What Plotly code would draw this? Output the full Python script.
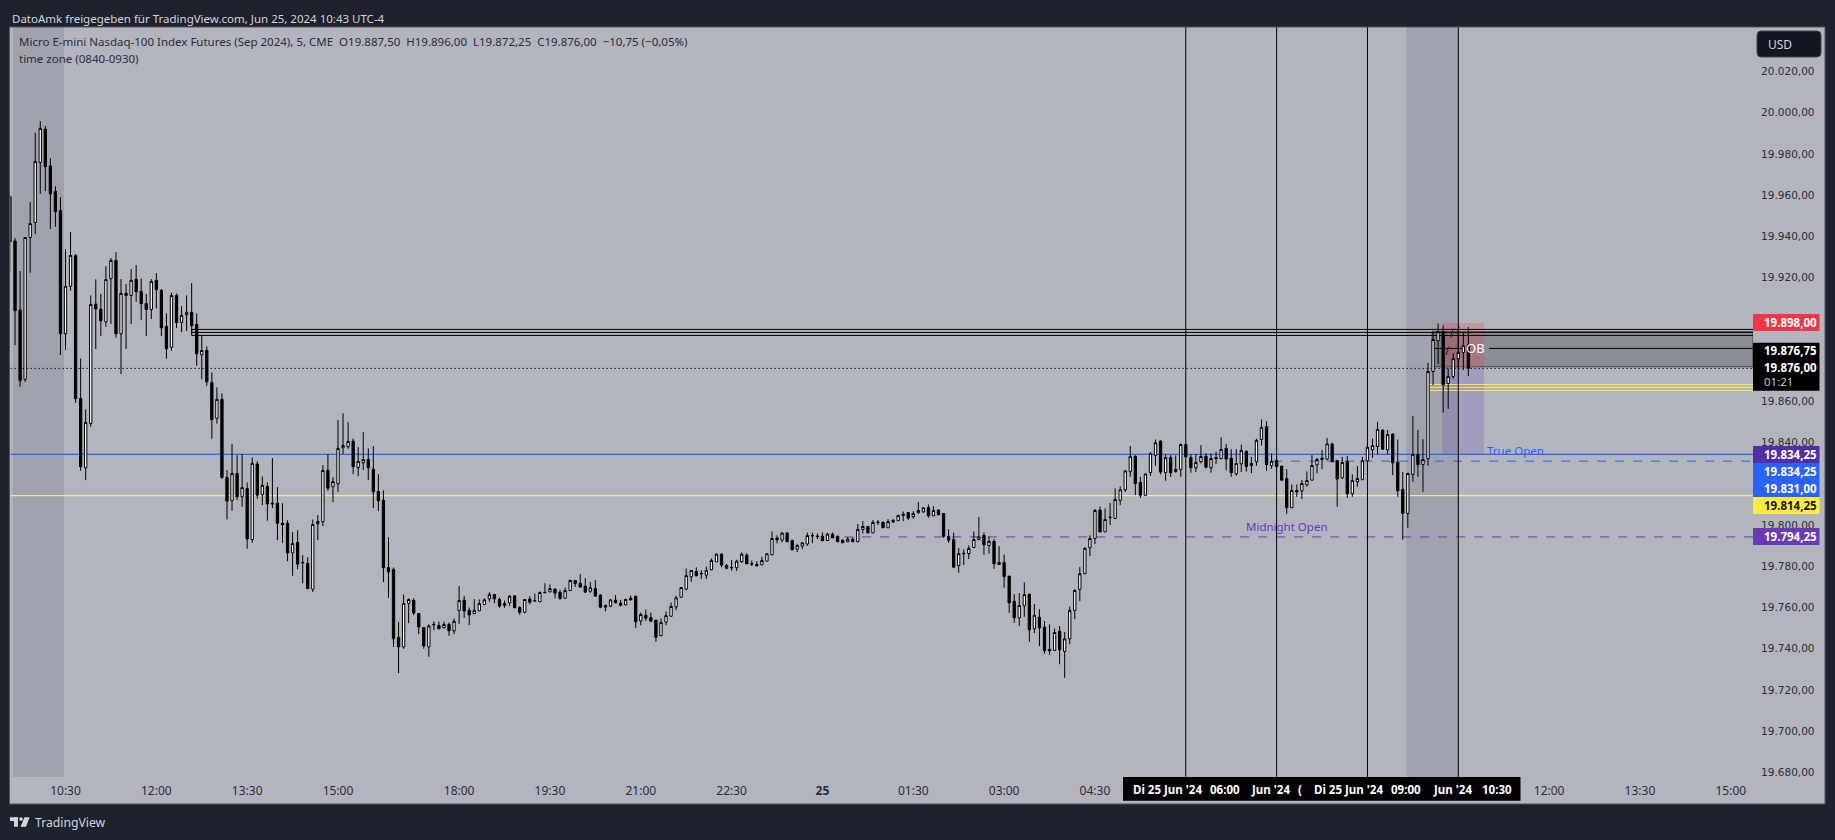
import plotly.graph_objects as go

W, H = 1835, 840
PANE_BG = "#b2b5be"
DARK_BG = "#1e222d"
TEXT_FONT = "Noto Sans"
TAG_FONT = "Open Sans"

# one 5 minute bar per entry, bar 0 is 09:40, bar -1 is cut by the pane edge
opens = [
    19959.3, 19937.8, 19904.3, 19870.7, 19939.5, 19946.8, 19975.9, 19992.1, 19974.2, 19961.9,
    19952.6, 19892.8, 19915.8, 19930.8, 19861.4, 19827.8, 19849.3, 19907.2, 19904.8, 19898.6,
    19919.5, 19928.4, 19892.8, 19912.5, 19911.4, 19919.2, 19913.3, 19907.5, 19904.6, 19918.7,
    19913.8, 19896.4, 19886.2, 19911.4, 19898.2, 19902.0, 19903.2, 19897.3, 19882.6, 19884.7,
    19869.2, 19851.8, 19861.0, 19823.1, 19811.9, 19825.0, 19813.7, 19817.7, 19793.0, 19829.6,
    19814.7, 19818.7, 19810.6, 19810.6, 19800.9, 19800.9, 19786.5, 19791.6, 19782.0, 19781.5,
    19768.9, 19800.6, 19801.6, 19826.6, 19818.6, 19820.0, 19837.5, 19838.0, 19840.7, 19827.9,
    19830.2, 19831.8, 19827.1, 19816.3, 19812.0, 19779.4, 19778.5, 19745.5, 19740.9, 19762.0,
    19763.4, 19757.1, 19750.3, 19740.9, 19751.9, 19751.3, 19750.2, 19751.8, 19748.7, 19758.6,
    19763.6, 19758.7, 19757.1, 19758.4, 19761.5, 19764.2, 19766.3, 19763.9, 19761.9, 19762.3,
    19765.7, 19760.0, 19757.7, 19764.1, 19763.4, 19762.8, 19767.4, 19767.6, 19768.9, 19767.4,
    19764.5, 19768.2, 19773.1, 19771.7, 19770.4, 19767.9, 19769.2, 19766.0, 19761.0, 19760.7,
    19763.6, 19762.1, 19761.3, 19764.5, 19765.5, 19753.5, 19756.3, 19755.2, 19753.9, 19746.4,
    19752.9, 19755.8, 19760.3, 19765.0, 19768.9, 19774.9, 19777.5, 19776.3, 19775.7, 19778.3,
    19782.2, 19785.9, 19780.4, 19779.5, 19779.3, 19782.2, 19785.4, 19781.3, 19780.9, 19780.7,
    19782.5, 19785.6, 19793.7, 19792.7, 19796.1, 19792.5, 19788.3, 19789.8, 19790.8, 19794.7,
    19794.4, 19794.6, 19792.5, 19795.6, 19794.6, 19792.7, 19791.9, 19793.2, 19791.9, 19797.9,
    19799.3, 19796.2, 19801.2, 19801.4, 19798.7, 19802.2, 19802.1, 19805.3, 19806.1, 19804.0,
    19806.0, 19806.4, 19808.5, 19804.5, 19807.3, 19805.6, 19794.5, 19793.0, 19780.4, 19786.1,
    19786.2, 19789.1, 19793.0, 19795.0, 19790.1, 19792.1, 19780.9, 19781.9, 19775.2, 19763.0,
    19755.0, 19760.8, 19766.5, 19749.7, 19755.3, 19750.5, 19739.7, 19739.2, 19748.5, 19738.7,
    19744.8, 19758.6, 19768.8, 19776.4, 19789.0, 19793.5, 19807.3, 19796.7, 19803.6, 19803.2,
    19812.0, 19817.1, 19825.9, 19833.3, 19820.7, 19814.4, 19825.5, 19833.8, 19840.7, 19825.4,
    19832.8, 19826.0, 19827.0, 19839.1, 19832.8, 19827.8, 19830.7, 19833.4, 19827.8, 19832.8,
    19832.2, 19837.2, 19832.5, 19824.9, 19829.7, 19835.7, 19828.9, 19830.7, 19841.5, 19847.8,
    19828.8, 19831.3, 19828.6, 19822.5, 19808.4, 19816.8, 19816.6, 19819.5, 19821.8, 19829.2,
    19831.8, 19832.0, 19839.3, 19831.3, 19822.9, 19831.0, 19815.2, 19821.0, 19822.0, 19831.2,
    19836.5, 19838.1, 19846.1, 19836.5, 19844.1, 19830.5, 19817.3, 19805.6, 19824.6, 19834.3,
    19829.4, 19832.2, 19874.5, 19889.4, 19893.8, 19868.7, 19872.1, 19880.7, 19883.7, 19887.5,
]
highs = [
    19960.1, 19939.1, 19923.2, 19939.5, 19956.7, 19990.3, 19996.0, 19993.6, 19977.9, 19964.4,
    19959.1, 19933.9, 19942.1, 19931.5, 19880.8, 19856.1, 19911.4, 19919.2, 19912.1, 19925.6,
    19929.5, 19932.4, 19919.3, 19916.9, 19924.2, 19926.1, 19919.6, 19912.1, 19919.3, 19922.2,
    19914.5, 19902.7, 19912.7, 19912.4, 19906.2, 19911.4, 19917.4, 19902.7, 19891.8, 19886.7,
    19874.1, 19866.8, 19863.9, 19826.7, 19839.3, 19833.9, 19834.4, 19820.7, 19832.8, 19831.0,
    19823.6, 19820.7, 19832.5, 19818.4, 19810.6, 19802.4, 19796.6, 19797.5, 19785.4, 19784.4,
    19802.7, 19804.8, 19829.1, 19834.4, 19823.2, 19850.9, 19854.3, 19849.9, 19842.0, 19837.8,
    19845.1, 19837.2, 19838.3, 19824.7, 19816.8, 19794.1, 19779.4, 19752.9, 19766.3, 19764.4,
    19764.5, 19757.3, 19750.5, 19751.8, 19753.2, 19753.2, 19753.2, 19752.7, 19754.7, 19770.4,
    19765.7, 19760.0, 19764.1, 19763.9, 19764.4, 19767.5, 19766.4, 19764.9, 19763.4, 19766.0,
    19765.8, 19760.7, 19764.1, 19765.5, 19766.8, 19767.8, 19771.8, 19771.2, 19769.4, 19768.6,
    19769.7, 19773.6, 19773.2, 19776.2, 19774.2, 19772.3, 19773.3, 19766.5, 19761.5, 19764.1,
    19766.0, 19763.7, 19764.4, 19765.8, 19765.7, 19757.6, 19759.0, 19757.6, 19754.0, 19754.7,
    19758.1, 19762.4, 19765.7, 19769.9, 19778.9, 19778.1, 19779.5, 19778.1, 19779.9, 19783.8,
    19786.2, 19786.4, 19781.1, 19783.0, 19783.2, 19786.7, 19786.4, 19782.8, 19782.5, 19784.6,
    19786.2, 19796.9, 19795.0, 19796.6, 19796.4, 19793.0, 19790.9, 19791.7, 19796.4, 19796.4,
    19795.9, 19796.4, 19796.2, 19796.4, 19794.7, 19793.0, 19794.1, 19794.0, 19800.5, 19801.9,
    19799.5, 19802.4, 19802.4, 19801.7, 19802.9, 19803.0, 19805.0, 19806.6, 19806.3, 19806.8,
    19811.1, 19808.5, 19810.0, 19809.2, 19807.6, 19805.8, 19798.0, 19796.4, 19788.8, 19788.2,
    19790.1, 19796.9, 19803.9, 19796.4, 19794.5, 19793.3, 19789.8, 19785.7, 19775.4, 19766.5,
    19767.0, 19772.2, 19766.6, 19761.7, 19759.2, 19753.4, 19751.8, 19749.8, 19751.0, 19748.1,
    19760.5, 19768.9, 19779.6, 19789.3, 19795.0, 19807.8, 19809.0, 19808.1, 19810.7, 19817.8,
    19818.7, 19826.5, 19838.3, 19833.9, 19823.4, 19824.9, 19835.2, 19841.5, 19841.2, 19834.3,
    19833.9, 19833.8, 19839.6, 19839.2, 19834.4, 19834.4, 19838.8, 19834.8, 19834.8, 19835.6,
    19842.5, 19839.3, 19836.8, 19836.8, 19839.1, 19836.4, 19833.1, 19841.9, 19851.2, 19850.3,
    19834.8, 19831.8, 19828.7, 19827.0, 19819.7, 19819.7, 19821.8, 19826.0, 19833.9, 19832.6,
    19836.4, 19842.2, 19839.9, 19831.5, 19833.1, 19833.5, 19824.6, 19828.6, 19833.1, 19839.6,
    19841.9, 19849.9, 19846.4, 19846.1, 19844.6, 19841.5, 19825.8, 19825.4, 19852.9, 19846.1,
    19841.7, 19878.7, 19893.8, 19897.8, 19896.8, 19876.0, 19883.3, 19894.6, 19893.4, 19896.0,
]
lows = [
    19922.9, 19887.3, 19867.1, 19869.4, 19922.4, 19941.2, 19960.7, 19962.0, 19943.6, 19944.7,
    19882.5, 19884.9, 19913.7, 19859.3, 19826.3, 19821.8, 19847.7, 19885.4, 19891.7, 19896.2,
    19897.5, 19890.9, 19873.3, 19885.4, 19897.5, 19908.2, 19899.4, 19891.7, 19899.9, 19905.1,
    19891.7, 19880.7, 19884.6, 19895.6, 19893.6, 19894.1, 19893.4, 19877.3, 19870.7, 19867.6,
    19841.9, 19849.2, 19822.5, 19802.7, 19806.9, 19812.1, 19808.9, 19788.5, 19791.4, 19812.7,
    19809.7, 19802.1, 19808.2, 19792.7, 19791.4, 19782.5, 19775.4, 19778.6, 19771.8, 19768.9,
    19767.5, 19792.7, 19799.5, 19816.5, 19811.1, 19816.0, 19834.6, 19837.0, 19824.7, 19823.7,
    19826.6, 19821.8, 19808.2, 19806.8, 19772.3, 19764.6, 19740.9, 19728.2, 19740.0, 19752.4,
    19756.3, 19747.1, 19740.0, 19736.1, 19749.0, 19749.5, 19749.8, 19746.3, 19747.1, 19752.1,
    19755.0, 19751.5, 19756.8, 19758.2, 19761.1, 19762.8, 19762.1, 19759.9, 19759.9, 19760.8,
    19759.7, 19756.5, 19757.2, 19761.6, 19763.0, 19762.7, 19767.0, 19767.5, 19764.5, 19763.7,
    19764.4, 19768.1, 19770.0, 19769.8, 19767.1, 19767.1, 19765.4, 19759.7, 19758.2, 19760.2,
    19762.1, 19760.5, 19761.1, 19763.6, 19750.0, 19751.4, 19753.4, 19753.1, 19743.4, 19746.1,
    19751.4, 19755.5, 19758.7, 19764.9, 19768.4, 19772.5, 19775.2, 19773.9, 19773.9, 19778.1,
    19782.1, 19779.6, 19778.6, 19777.8, 19777.7, 19781.7, 19781.1, 19780.1, 19780.1, 19780.6,
    19782.4, 19785.4, 19791.1, 19791.7, 19791.7, 19787.8, 19786.9, 19788.3, 19789.9, 19791.2,
    19793.2, 19792.3, 19792.4, 19793.7, 19791.8, 19791.3, 19791.8, 19791.8, 19791.8, 19795.9,
    19796.1, 19796.1, 19800.1, 19798.6, 19798.6, 19800.9, 19802.0, 19801.9, 19802.4, 19803.1,
    19805.5, 19806.0, 19803.5, 19804.4, 19804.8, 19793.8, 19791.4, 19779.3, 19776.9, 19780.6,
    19783.5, 19789.0, 19792.9, 19785.6, 19786.1, 19778.8, 19780.7, 19769.6, 19757.4, 19752.6,
    19751.1, 19755.5, 19743.4, 19747.6, 19741.3, 19737.6, 19737.1, 19738.9, 19732.5, 19725.9,
    19742.2, 19754.4, 19763.1, 19776.2, 19784.9, 19790.8, 19796.6, 19796.6, 19800.0, 19803.1,
    19809.7, 19816.1, 19823.4, 19814.5, 19813.2, 19814.3, 19823.9, 19828.8, 19824.6, 19821.5,
    19823.4, 19825.4, 19823.4, 19833.0, 19825.4, 19825.7, 19829.9, 19827.5, 19825.4, 19829.6,
    19832.0, 19826.6, 19823.4, 19823.9, 19825.7, 19825.9, 19825.2, 19828.8, 19838.6, 19826.3,
    19827.3, 19828.2, 19821.7, 19805.5, 19808.3, 19813.7, 19812.6, 19818.6, 19821.6, 19825.2,
    19827.1, 19831.5, 19830.6, 19808.9, 19822.4, 19813.2, 19813.7, 19818.6, 19821.9, 19831.1,
    19832.6, 19834.4, 19836.7, 19834.4, 19824.2, 19813.7, 19792.9, 19798.7, 19821.0, 19823.4,
    19816.1, 19828.8, 19867.9, 19878.1, 19854.5, 19856.4, 19871.0, 19876.0, 19875.2, 19872.25,
]
closes = [
    19937.4, 19904.0, 19870.0, 19939.5, 19946.3, 19976.4, 19992.4, 19973.8, 19960.7, 19952.0,
    19892.8, 19915.8, 19930.8, 19861.3, 19828.3, 19849.8, 19907.0, 19904.8, 19899.1, 19919.2,
    19928.4, 19892.8, 19912.4, 19911.3, 19918.7, 19913.2, 19907.4, 19904.6, 19918.2, 19914.2,
    19895.7, 19885.5, 19911.4, 19898.2, 19901.7, 19903.2, 19896.7, 19883.1, 19884.7, 19869.5,
    19851.1, 19861.0, 19823.1, 19811.6, 19825.0, 19813.7, 19818.2, 19793.3, 19829.9, 19814.5,
    19819.2, 19810.2, 19810.3, 19800.9, 19800.1, 19786.5, 19791.1, 19781.1, 19781.7, 19769.2,
    19800.3, 19801.7, 19826.5, 19817.9, 19821.1, 19837.2, 19838.6, 19840.6, 19828.3, 19830.9,
    19831.8, 19827.8, 19816.1, 19811.8, 19779.3, 19777.3, 19744.8, 19740.9, 19762.0, 19763.9,
    19757.4, 19750.6, 19741.4, 19751.1, 19751.6, 19749.7, 19751.8, 19748.7, 19753.3, 19763.4,
    19758.3, 19756.4, 19758.6, 19761.9, 19763.7, 19766.3, 19764.2, 19760.7, 19761.1, 19765.5,
    19759.9, 19757.7, 19763.9, 19762.6, 19763.2, 19767.3, 19767.2, 19769.2, 19767.0, 19764.4,
    19768.2, 19773.1, 19771.7, 19769.9, 19767.5, 19769.7, 19765.5, 19760.2, 19760.2, 19763.7,
    19762.3, 19761.1, 19763.9, 19763.7, 19753.1, 19756.6, 19754.8, 19753.4, 19745.6, 19752.7,
    19756.1, 19760.5, 19764.7, 19769.7, 19775.5, 19778.0, 19775.4, 19776.5, 19778.0, 19782.8,
    19785.9, 19780.6, 19779.1, 19779.3, 19782.5, 19785.9, 19781.2, 19781.1, 19780.2, 19782.8,
    19786.1, 19793.5, 19792.9, 19796.1, 19791.9, 19788.0, 19790.1, 19791.4, 19794.9, 19794.9,
    19794.6, 19792.4, 19795.6, 19793.8, 19791.9, 19791.4, 19793.2, 19791.9, 19797.9, 19799.3,
    19796.2, 19801.3, 19801.4, 19798.7, 19801.7, 19801.6, 19804.7, 19804.7, 19803.4, 19805.6,
    19807.1, 19808.4, 19804.5, 19807.1, 19805.0, 19794.6, 19792.7, 19779.6, 19786.2, 19786.3,
    19788.7, 19793.0, 19794.3, 19790.4, 19792.1, 19781.2, 19781.9, 19774.9, 19762.3, 19755.0,
    19761.0, 19766.3, 19749.2, 19756.2, 19750.2, 19739.0, 19739.0, 19747.9, 19739.5, 19744.8,
    19758.6, 19768.3, 19776.4, 19788.7, 19793.5, 19807.1, 19796.7, 19802.7, 19803.8, 19812.4,
    19817.1, 19826.3, 19833.3, 19820.2, 19814.5, 19824.8, 19834.8, 19839.9, 19825.7, 19832.8,
    19825.4, 19827.0, 19839.1, 19833.1, 19827.8, 19830.4, 19833.3, 19828.1, 19832.3, 19832.2,
    19836.7, 19832.0, 19825.4, 19829.9, 19836.2, 19828.3, 19829.9, 19841.1, 19847.4, 19829.3,
    19830.9, 19828.3, 19821.8, 19808.4, 19816.8, 19816.1, 19820.2, 19821.6, 19828.9, 19831.8,
    19832.5, 19839.4, 19830.7, 19822.3, 19830.4, 19815.2, 19821.6, 19822.6, 19831.3, 19837.7,
    19838.6, 19846.4, 19836.8, 19843.9, 19830.2, 19816.6, 19805.6, 19825.0, 19834.3, 19829.2,
    19831.8, 19874.5, 19890.0, 19893.8, 19868.0, 19872.1, 19880.7, 19883.7, 19887.0, 19876.0,
]
bars = list(range(-1, 289))

time_tick_bars = [10, 28, 46, 64, 88, 106, 124, 142, 160, 178, 196, 214, 304, 322, 340]
time_tick_labels = ["10:30", "12:00", "13:30", "15:00", "18:00", "19:30", "21:00", "22:30", "<b>25</b>",
                    "01:30", "03:00", "04:30", "12:00", "13:30", "15:00"]
# 19.900, 19.880 and 19.820 sit fully behind the price tags
price_ticks = [20020, 20000, 19980, 19960, 19940, 19920, 19860, 19840, 19800,
               19780, 19760, 19740, 19720, 19700, 19680]
price_labels = ["20.020,00", "20.000,00", "19.980,00", "19.960,00", "19.940,00", "19.920,00",
                "19.860,00", "19.840,00", "19.800,00", "19.780,00", "19.760,00",
                "19.740,00", "19.720,00", "19.700,00", "19.680,00"]

x_range = [-0.9, 344.4]
y_range = [19677.8, 20041.6]

crosshair_bars = [232, 250, 268, 286]
session_zones = [(-0.45, 9.7), (275.7, 286)]
top_levels = [19894.9, 19893.45, 19892.0]
yellow_levels = [19868.2, 19866.8, 19865.3]
curve_bars = [283.6, 284.4, 285, 285.7, 286.2]
curve_prices = [19882.5, 19888.9, 19895.4, 19897.8, 19895.4]

# (text, y centre in px, background, text colour)
price_tags = [
    ("19.898,00", 322.5, "#f23645", "white"),
    ("19.834,25", 454.5, "#512da8", "white"),
    ("19.814,25", 505.5, "#ffeb3b", "#131722"),
    ("19.794,25", 536.5, "#673ab7", "white"),
]


def px(x):
    return x / W


def py(y):
    return 1 - y / H


def hline(price, color, start=x_range[0], end=x_range[1], dash="solid", width=1):
    return dict(type="line", xref="x", yref="y", x0=start, x1=end, y0=price, y1=price, layer="below",
                line=dict(color=color, width=width, dash=dash))


def pane_rect(x0, y0, x1, y1, fill, line=None, layer="above"):
    return dict(type="rect", xref="paper", yref="paper", x0=px(x0), x1=px(x1), y0=py(y0), y1=py(y1),
                fillcolor=fill, layer=layer, line=dict(color=line or fill, width=1 if line else 0))


def label(x, y, text, color="#d1d4dc", size=11.5, anchor="left", font=TEXT_FONT):
    return dict(xref="paper", yref="paper", x=px(x), y=py(y), text=text, showarrow=False, xanchor=anchor,
                yanchor="middle", font=dict(family=font, size=size, color=color))


fig = go.Figure()
fig.add_trace(go.Candlestick(
    x=bars, open=opens, high=highs, low=lows, close=closes, whiskerwidth=0, hoverinfo="skip",
    increasing=dict(fillcolor="white", line=dict(color="black", width=1)),
    decreasing=dict(fillcolor="black", line=dict(color="black", width=1)),
))
fig.add_trace(go.Scatter(x=curve_bars, y=curve_prices, mode="lines", hoverinfo="skip",
                         line=dict(color="#131722", width=1, dash="dash", shape="spline")))

shapes = [pane_rect(9.5, 27, 1825, 804, PANE_BG, layer="below")]
for start, end in session_zones:
    shapes.append(dict(type="rect", xref="x", yref="y", x0=start, x1=end, y0=y_range[0], y1=y_range[1],
                       fillcolor="#a0a2ad", line_width=0, layer="below"))

# order block and the long/short tool on the right
shapes.append(dict(type="rect", xref="x", yref="y", x0=280.8, x1=x_range[1], y0=19876.8, y1=19893.8,
                   fillcolor="rgba(0,0,0,0.22)", layer="below", line=dict(color="rgba(0,0,0,0.55)", width=1)))
shapes.append(dict(type="rect", xref="x", yref="y", x0=282.8, x1=291.1, y0=19876.8, y1=19898.0,
                   fillcolor="rgba(242,54,69,0.25)", line_width=0, layer="below"))
shapes.append(dict(type="rect", xref="x", yref="y", x0=282.8, x1=291.1, y0=19834.25, y1=19876.8,
                   fillcolor="rgba(103,58,183,0.2)", line_width=0, layer="below"))

for level in top_levels:
    shapes.append(hline(level, "black", start=35))
shapes.append(dict(type="line", xref="x", yref="y", x0=35, x1=35, y0=top_levels[2], y1=top_levels[0],
                   layer="below", line=dict(color="black", width=1)))
shapes.append(hline(19885.7, "black", start=281, end=287.2))
shapes.append(hline(19885.7, "black", start=292.1))
shapes.append(hline(19876.0, "black", dash="1.3px,2.7px"))
for level in yellow_levels:
    shapes.append(hline(level, "#ffeb3b", start=280.2))
shapes.append(hline(19834.25, "#2962ff", width=1.3))
shapes.append(hline(19831.0, "#2962ff", start=249.3, dash="dash"))
shapes.append(hline(19814.25, "#fff59d", width=1))
shapes.append(hline(19794.25, "#673ab7", start=164.3, dash="dash"))
for bar in crosshair_bars:
    shapes.append(dict(type="line", xref="x", yref="y", x0=bar, x1=bar, y0=y_range[0], y1=y_range[1],
                       layer="below", line=dict(color="black", width=1)))

# price tags on the scale
for text, y, color, text_color in price_tags:
    shapes.append(pane_rect(1753, y - 8.5, 1819.5, y + 8.5, color))
shapes.append(pane_rect(1753, 463, 1819.5, 497, "#2962ff"))
shapes.append(pane_rect(1753, 342.7, 1819.5, 390.7, "black"))
shapes.append(pane_rect(1123, 777, 1520.5, 800.7, "black"))

# USD button
x0, x1, y0, y1 = 1757, 1821, 31, 57
shapes.append(dict(
    type="path", xref="paper", yref="paper", layer="above", fillcolor="#131722",
    line=dict(color="#434651", width=1),
    path=(f"M {px(x0 + 4)} {py(y0)} L {px(x1 - 4)} {py(y0)} Q {px(x1)} {py(y0)} {px(x1)} {py(y0 + 4)} "
          f"L {px(x1)} {py(y1 - 4)} Q {px(x1)} {py(y1)} {px(x1 - 4)} {py(y1)} "
          f"L {px(x0 + 4)} {py(y1)} Q {px(x0)} {py(y1)} {px(x0)} {py(y1 - 4)} "
          f"L {px(x0)} {py(y0 + 4)} Q {px(x0)} {py(y0)} {px(x0 + 4)} {py(y0)} Z"),
))

# TradingView logo
shapes.append(pane_rect(10, 817.3, 18, 821, "#d1d4dc"))
shapes.append(pane_rect(14, 817.3, 18, 826.7, "#d1d4dc"))
shapes.append(dict(type="circle", xref="paper", yref="paper", x0=px(19.2), x1=px(22.8), y0=py(817.3), y1=py(820.9),
                   fillcolor="#d1d4dc", line_width=0))
shapes.append(dict(type="path", xref="paper", yref="paper", fillcolor="#d1d4dc", line_width=0,
                   path=f"M {px(24.5)} {py(817.3)} L {px(29.6)} {py(817.3)} L {px(26)} {py(826.7)} "
                        f"L {px(20.5)} {py(826.7)} Z"))

# pane border goes last
shapes.append(dict(type="rect", xref="paper", yref="paper", x0=px(9.5), x1=px(1825), y0=py(27), y1=py(804),
                   layer="above", line=dict(color="#50535e", width=1)))

annotations = [
    label(10, 18, "DatoAmk freigegeben für TradingView.com, Jun 25, 2024 10:43 UTC-4"),
    label(17, 41.7, "Micro E-mini Nasdaq-100 Index Futures (Sep 2024), 5, CME&nbsp;&nbsp;O19.887,50&nbsp;&nbsp;"
                    "H19.896,00&nbsp;&nbsp;L19.872,25&nbsp;&nbsp;C19.876,00&nbsp;&nbsp;−10,75 (−0,05%)",
          color="#2a2e39"),
    label(17, 59, "time zone (0840-0930)", color="#2a2e39"),
    label(32.5, 822, "TradingView", size=12.2),
    label(1766, 44.5, "USD", size=12),
    label(1475, 348, "OB", color="white", size=13, anchor="center"),
    label(1484.5, 450, "True Open", color="#2962ff"),
    label(1286.5, 526, "Midnight Open", color="#673ab7", anchor="center"),
    label(1762, 350.7, "<b>19.876,75</b>", color="white", font=TAG_FONT),
    label(1762, 367.7, "<b>19.876,00</b>", color="white", font=TAG_FONT),
    label(1762, 381.7, "01:21", color="#d1d4dc", font=TAG_FONT),
    label(1762, 471.5, "<b>19.834,25</b>", color="white", font=TAG_FONT),
    label(1762, 488.5, "<b>19.831,00</b>", color="white", font=TAG_FONT),
    label(1131, 789.5, "<b>Di 25 Jun '24</b>", color="white"),
    label(1225, 789.5, "<b>06:00</b>", color="white", anchor="center"),
    label(1270, 789.5, "<b>Jun '24</b>", color="white", anchor="center"),
    label(1300, 789.5, "<b>(</b>", color="white", anchor="center"),
    label(1312, 789.5, "<b>Di 25 Jun '24</b>", color="white"),
    label(1406, 789.5, "<b>09:00</b>", color="white", anchor="center"),
    label(1452, 789.5, "<b>Jun '24</b>", color="white", anchor="center"),
    label(1497, 789.5, "<b>10:30</b>", color="white", anchor="center"),
]
for text, y, color, text_color in price_tags:
    annotations.append(label(1762, y, f"<b>{text}</b>", color=text_color, font=TAG_FONT))

fig.update_layout(
    width=W, height=H, margin=dict(l=0, r=0, t=0, b=0), showlegend=False,
    paper_bgcolor=DARK_BG, plot_bgcolor=PANE_BG, boxgap=0.35, dragmode=False,
    shapes=shapes, annotations=annotations,
    xaxis=dict(domain=[px(10.5), px(1753)], range=x_range, rangeslider_visible=False, showgrid=False, zeroline=False,
               tickmode="array", tickvals=time_tick_bars, ticktext=time_tick_labels, ticks="outside", ticklen=3,
               tickcolor="rgba(0,0,0,0)", tickfont=dict(family=TEXT_FONT, size=12, color="#2a2e39")),
    yaxis=dict(domain=[py(777), py(27)], range=y_range, side="right", showgrid=False, zeroline=False,
               tickmode="array", tickvals=price_ticks, ticktext=price_labels, ticks="outside", ticklen=5,
               tickcolor="rgba(0,0,0,0)", tickfont=dict(family="DejaVu Sans", size=10.5, color="#2a2e39")),
)

fig.write_html("out.html", config={"displayModeBar": False},
               post_script="document.body.style.margin='0';document.body.style.background='#1e222d';"
                           "document.documentElement.style.overflow='hidden';")
